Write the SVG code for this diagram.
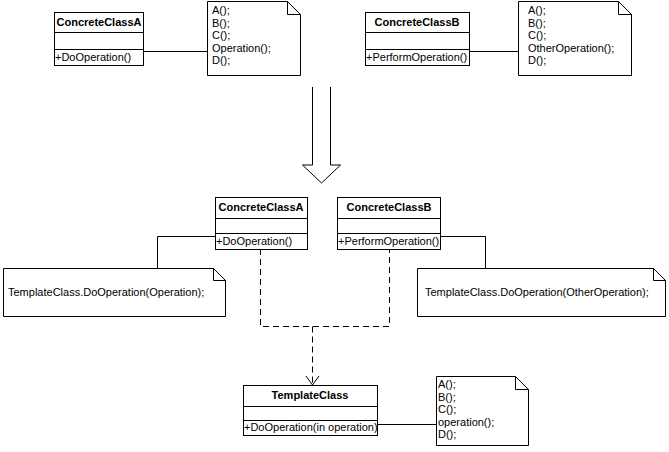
<svg xmlns="http://www.w3.org/2000/svg" width="669" height="452" viewBox="0 0 669 452">
<style>
.b{fill:#fff;stroke:#000;stroke-width:1}
.l{fill:none;stroke:#000;stroke-width:1}
.d{fill:none;stroke:#000;stroke-width:1;stroke-dasharray:6,4}
text{font-family:"Liberation Sans",Arial,sans-serif;font-size:11px;fill:#000}
.t{font-weight:bold;text-anchor:middle}
</style>
<rect width="669" height="452" fill="#fff"/>
<g id="connectors">
<line class="l" x1="143" y1="51.5" x2="207" y2="51.5"/>
<line class="l" x1="469" y1="51.5" x2="518" y2="51.5"/>
<path class="l" d="M215 236.5H157.5V268"/>
<path class="l" d="M440 236.5H485.5V268"/>
<path class="d" d="M260.5 249V326.5H389.5V249"/>
<path class="d" d="M312.5 326.5V384" stroke-width="1.5"/>
<path class="l" d="M306 376L312.5 385L319 376"/>
<line class="l" x1="377" y1="424.5" x2="436" y2="424.5"/>
<path class="b" d="M312.5 87V165H302.5L321.5 183L340.5 165H330.5V87" />
</g>
<g id="classA1">
<rect class="b" x="54.5" y="12.5" width="89" height="53"/>
<line class="l" x1="54.5" y1="32.5" x2="143.5" y2="32.5"/><line class="l" x1="54.5" y1="49.5" x2="143.5" y2="49.5"/>
<text class="t" x="99" y="26">ConcreteClassA</text><text x="55" y="61">+DoOperation()</text>
</g>
<g id="noteA1">
<path class="b" d="M207.5 1.5H287.5L300.5 14.5V75.5H207.5Z"/><path class="l" d="M287.5 1.5V14.5H300.5"/>
<text x="212" y="14">A();</text><text x="212" y="26.5">B();</text><text x="212" y="39">C();</text><text x="212" y="51.5">Operation();</text><text x="212" y="64">D();</text>
</g>
<g id="classB1">
<rect class="b" x="365.5" y="12.5" width="104" height="53"/>
<line class="l" x1="365.5" y1="32.5" x2="469.5" y2="32.5"/><line class="l" x1="365.5" y1="49.5" x2="469.5" y2="49.5"/>
<text class="t" x="417" y="26">ConcreteClassB</text><text x="366" y="61">+PerformOperation()</text>
</g>
<g id="noteB1">
<path class="b" d="M518.5 1.5H618.5L631.5 14.5V75.5H518.5Z"/><path class="l" d="M618.5 1.5V14.5H631.5"/>
<text x="528" y="14">A();</text><text x="528" y="26.5">B();</text><text x="528" y="39">C();</text><text x="528" y="51.5">OtherOperation();</text><text x="528" y="64">D();</text>
</g>
<g id="classA2">
<rect class="b" x="215.5" y="197.5" width="92" height="52"/>
<line class="l" x1="215.5" y1="218.5" x2="307.5" y2="218.5"/><line class="l" x1="215.5" y1="233.5" x2="307.5" y2="233.5"/>
<text class="t" x="261" y="211">ConcreteClassA</text><text x="216" y="245">+DoOperation()</text>
</g>
<g id="classB2">
<rect class="b" x="337.5" y="197.5" width="103" height="52"/>
<line class="l" x1="337.5" y1="218.5" x2="440.5" y2="218.5"/><line class="l" x1="337.5" y1="233.5" x2="440.5" y2="233.5"/>
<text class="t" x="389" y="211">ConcreteClassB</text><text x="338" y="245">+PerformOperation()</text>
</g>
<g id="noteA2">
<path class="b" d="M3.5 268.5H213.5L225.5 280.5V316.5H3.5Z"/><path class="l" d="M213.5 268.5V280.5H225.5"/>
<text x="8" y="296">TemplateClass.DoOperation(Operation);</text>
</g>
<g id="noteB2">
<path class="b" d="M417.5 268.5H653.5L665.5 280.5V316.5H417.5Z"/><path class="l" d="M653.5 268.5V280.5H665.5"/>
<text x="425" y="296">TemplateClass.DoOperation(OtherOperation);</text>
</g>
<g id="templateClass">
<rect class="b" x="243.5" y="385.5" width="134" height="50"/>
<line class="l" x1="243.5" y1="406.5" x2="377.5" y2="406.5"/><line class="l" x1="243.5" y1="420.5" x2="377.5" y2="420.5"/>
<text class="t" x="310" y="399">TemplateClass</text><text x="244" y="431">+DoOperation(in operation)</text>
</g>
<g id="noteT">
<path class="b" d="M436.5 376.5H515.5L528.5 389.5V445.5H436.5Z"/><path class="l" d="M515.5 376.5V389.5H528.5"/>
<text x="438" y="388">A();</text><text x="438" y="400.5">B();</text><text x="438" y="413">C();</text><text x="438" y="425.5">operation();</text><text x="438" y="438">D();</text>
</g>
</svg>
